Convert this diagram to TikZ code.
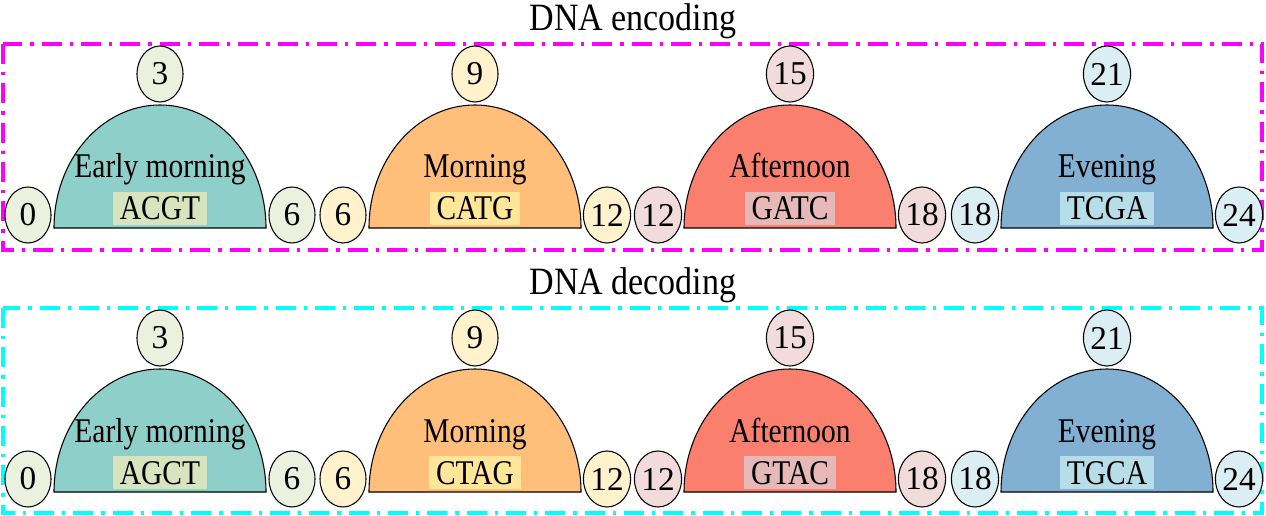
\documentclass[tikz,border=0pt]{standalone}
\usepackage{fontspec}
\setmainfont{Liberation Serif}
\definecolor{domeA}{HTML}{8ECFC9}
\definecolor{domeB}{HTML}{FFBE7A}
\definecolor{domeC}{HTML}{FA7F6F}
\definecolor{domeD}{HTML}{82B0D2}
\definecolor{dotA}{HTML}{EBF1DE}
\definecolor{dotB}{HTML}{FFF2CC}
\definecolor{dotC}{HTML}{F2DCDB}
\definecolor{dotD}{HTML}{DBEEF4}
\definecolor{tagA}{HTML}{D7E4BD}
\definecolor{tagB}{HTML}{FFE699}
\definecolor{tagC}{HTML}{E6B9B8}
\definecolor{tagD}{HTML}{B7DDE8}
\definecolor{encline}{RGB}{255,0,255}
\definecolor{decline}{RGB}{0,255,255}
\tikzset{
  hour/.style={draw,ellipse,line width=0.8pt,minimum width=34.5pt,minimum height=42pt,inner sep=0pt,font=\fontsize{25}{25}\selectfont},
  period/.style={font=\fontsize{26}{26}\selectfont,inner sep=0pt,anchor=base,xscale=0.85},
  tag/.style={font=\fontsize{26}{26}\selectfont,inner xsep=6pt,inner ysep=4pt,text depth=0pt,anchor=base,xscale=0.85},
  title/.style={font=\fontsize{29}{29}\selectfont,anchor=base,xscale=0.88},
  frame/.style={line width=2.4pt,dash pattern={on 15pt off 6pt on 2.5pt off 6pt}}
}
\usetikzlibrary{shapes.geometric}
\begin{document}
\begin{tikzpicture}[x=0.75pt,y=-0.75pt]
\useasboundingbox (0,0) rectangle (1266,516);

% titles and frames
\node[title] (enc) at (633,31) {DNA encoding};
\node[title] (dec) at (633,295) {DNA decoding};
\draw[frame,encline] (3,44) rectangle (1262,250);
\draw[frame,decline] (3,308) rectangle (1262,513);

\foreach \row/\dy/\codes in {a/0/{ACGT,CATG,GATC,TCGA},b/264/{AGCT,CTAG,GTAC,TGCA}}{
  \foreach \i/\cx/\name/\col/\first/\mid/\last [count=\k] in
    {0/160/Early morning/A/0/3/6, 1/475/Morning/B/6/9/12,
     2/790/Afternoon/C/12/15/18, 3/1107/Evening/D/18/21/24}{
    \pgfmathsetmacro\base{228+\dy}
    % dome
    \filldraw[fill=dome\col,line width=0.8pt] (\cx-106,\base) arc[start angle=180,end angle=360,x radius=106,y radius=123] -- cycle;
    \node[period] (p\row\i) at (\cx,\base-50) {\name};
    \foreach \c [count=\j] in \codes {\ifnum\j=\k\relax
      \node[tag,fill=tag\col] (t\row\i) at (\cx,\base-8) {\c};\fi}
    \node[hour,fill=dot\col] (l\row\i) at (\cx-132,\base-13) {\first};
    \node[hour,fill=dot\col] (m\row\i) at (\cx,\base-154) {\mid};
    \node[hour,fill=dot\col] (r\row\i) at (\cx+132,\base-13) {\last};
  }
}
\end{tikzpicture}
\end{document}
